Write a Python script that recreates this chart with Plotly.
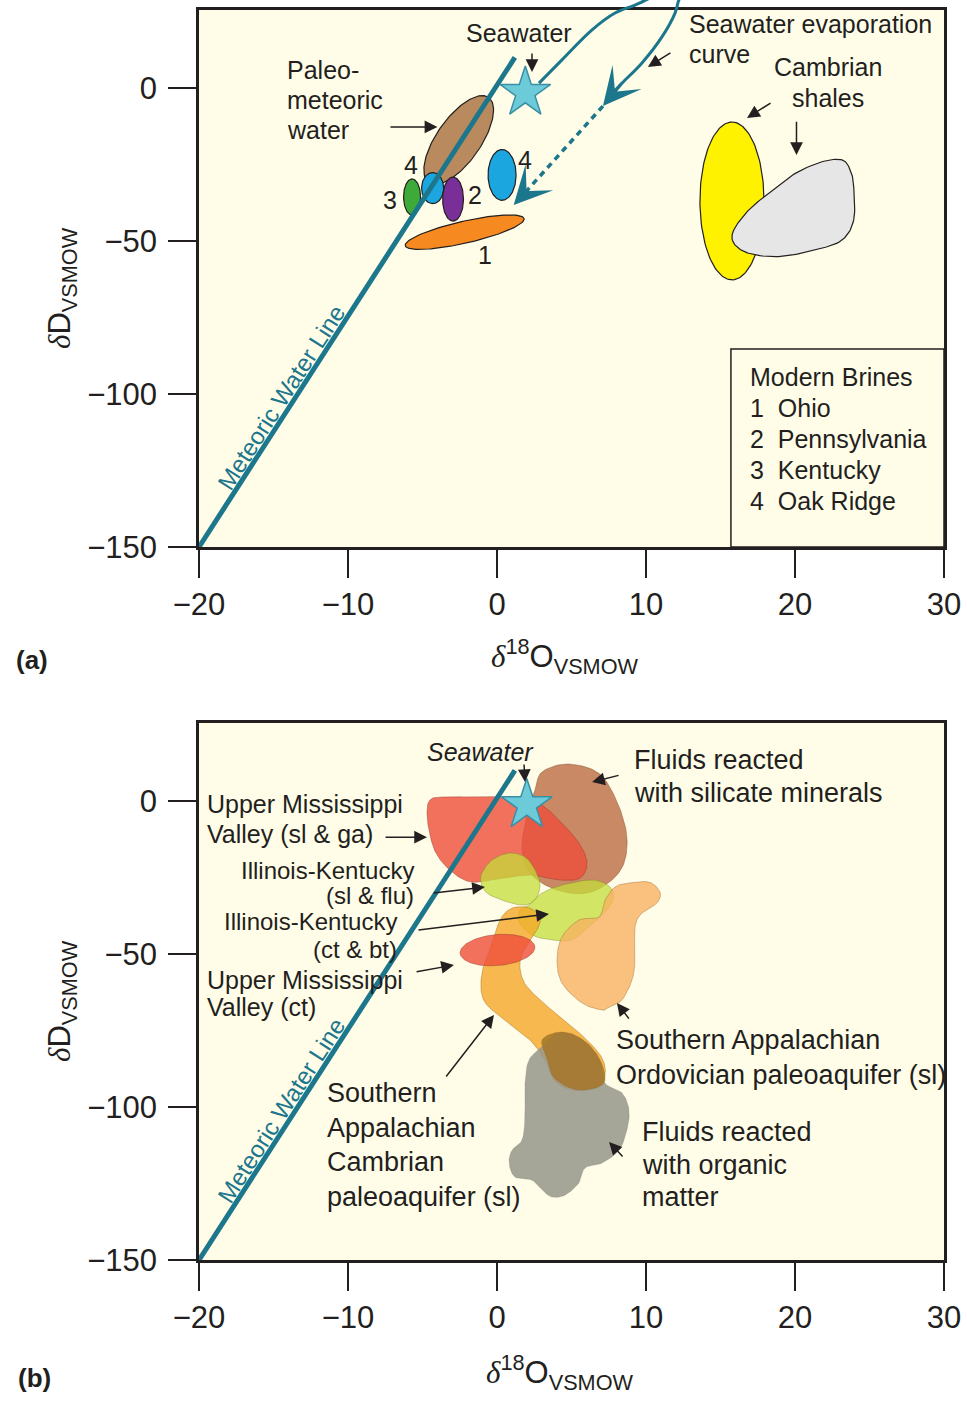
import numpy as np
import plotly.graph_objects as go

W, H = 967, 1408
FONT = "Liberation Sans, Arial, Helvetica, sans-serif"
DARK = "#231F20"
TEAL = "#1C768C"
CREAM = "#FFFDE8"

# ---------------- axes ----------------
x_ticks = [-20, -10, 0, 10, 20, 30]
x_ticktext = ["−20", "−10", "0", "10", "20", "30"]
y_ticks = [0, -50, -100, -150]
y_ticktext = ["0", "−50", "−100", "−150"]
X_RANGE = [-20, 30]
Y_RANGE = [-150, 25.5]

# ---------------- shared data ----------------
mwl_x = [-20.0, 1.2]          # meteoric water line
mwl_y = [-150.0, 10.0]
seawater_a_x, seawater_a_y = [1.9], [-1.5]
seawater_b_x, seawater_b_y = [2.0], [-1.3]

# ---------------- panel (a) data ----------------
# seawater evaporation curve (solid part, loops above the frame)
evap_x = [2.82, 4.36, 6.38, 7.92, 9.26, 10.40, 11.07, 11.88, 12.35, 12.21, 11.95, 11.07, 9.73, 8.39, 7.70]
evap_y = [1.6, 9.2, 19.0, 24.5, 27.1, 29.7, 31.0, 31.4, 29.7, 28.8, 24.5, 16.7, 8.2, 1.6, -2.0]
evap_dash_x = [7.11, 1.40]
evap_dash_y = [-5.9, -36.8]

# brine ellipses: centre, half extents, tilt (deg)
ell_names = ["Cambrian shale (yellow)", "Paleo-meteoric water", "1 Ohio", "3 Kentucky",
             "4 Oak Ridge", "2 Pennsylvania", "4 Oak Ridge"]
ell_cx = [15.77, -2.57, -2.17, -5.70, -4.32, -2.95, 0.34]
ell_cy = [-36.9, -17.0, -47.1, -35.6, -32.7, -36.3, -28.4]
ell_rx = [2.15, 3.49, 4.09, 0.57, 0.74, 0.70, 0.94]
ell_ry = [25.8, 7.19, 3.59, 5.9, 5.07, 7.2, 8.3]
ell_tilt = [0, 55, 12.8, 0, 0, 0, 0]
ell_colors = ["#FFF200", "#B98A5E", "#F6891F", "#3DAA3A", "#1CA6E0", "#7A2E97", "#1CA6E0"]

shale_x = [15.89, 16.89, 18.23, 20.02, 21.81, 23.15, 23.71, 23.94, 23.94, 23.15, 21.36, 18.91, 16.89, 15.89]
shale_y = [-46.4, -39.9, -34.4, -27.9, -24.1, -23.5, -26.8, -32.3, -43.1, -49.7, -52.9, -55.1, -54.0, -50.7]

num_labels = ["4", "3", "2", "4", "1"]
num_x = [-5.8, -7.2, -1.5, 1.9, -0.8]
num_y = [-25.0, -36.6, -35.0, -23.5, -54.6]

legend_box_x = [15.7, 30]
legend_box_y = [-150, -85.3]
legend_lines = ["Modern Brines", "1\u00a0\u00a0Ohio", "2\u00a0\u00a0Pennsylvania",
                "3\u00a0\u00a0Kentucky", "4\u00a0\u00a0Oak Ridge"]

# ---------------- panel (b) data ----------------
silicate_x = [2.55, 3.02, 4.70, 6.71, 7.85, 8.66, 8.59, 7.72, 6.04, 4.03, 2.35, 1.68, 2.01]
silicate_y = [3.6, 9.5, 12.1, 9.5, 2.0, -9.5, -19.3, -25.8, -30.1, -29.1, -24.2, -16.0, -4.6]
umv_slga_x = [-4.70, -4.50, -3.69, -1.01, 1.88, 3.02, 4.03, 5.50, 6.04, 5.57, 4.16, 2.35, 0.34, -1.68, -3.02, -4.03, -4.50]
umv_slga_y = [-3.9, 0.3, 1.3, 1.3, 1.3, -1.3, -5.6, -13.7, -20.3, -25.2, -25.8, -24.2, -25.2, -26.5, -23.2, -17.6, -11.1]
ik_slflu_x = [-1.01, -0.34, 0.81, 1.88, 2.55, 2.89, 2.55, 1.68, 0.34, -0.67, -1.07]
ik_slflu_y = [-23.5, -19.3, -17.0, -18.3, -22.5, -27.5, -32.4, -34.0, -32.4, -30.1, -26.8]
ik_ctbt_x = [2.15, 3.02, 4.36, 6.38, 7.58, 7.79, 7.05, 6.04, 5.03, 3.69, 2.35, 1.48, 1.54]
ik_ctbt_y = [-34.0, -30.1, -27.5, -25.8, -28.1, -32.4, -37.3, -41.5, -45.4, -45.4, -43.8, -39.5, -35.6]
ordov_x = [7.92, 8.86, 10.20, 10.94, 10.74, 9.73, 9.26, 9.26, 9.06, 8.39, 7.52, 7.05, 5.70, 4.36, 4.03, 4.36, 5.50, 6.85, 7.25]
ordov_y = [-28.1, -26.8, -26.5, -29.7, -33.3, -36.6, -41.2, -52.0, -58.5, -65.0, -67.3, -68.3, -66.0, -59.5, -52.0, -44.4, -38.9, -37.9, -32.4]
camb_x = [1.01, 0.20, -0.34, -0.94, -1.07, -0.67, 0.54, 2.21, 3.22, 3.83, 5.03, 6.71, 7.25, 7.05, 6.04, 4.50, 2.89, 1.81, 1.54, 2.01, 2.68, 2.89, 2.21]
camb_y = [-35.0, -38.9, -47.1, -54.6, -61.8, -66.7, -71.6, -78.1, -84.6, -91.2, -94.4, -93.8, -89.5, -84.0, -78.1, -71.6, -65.0, -59.2, -52.6, -47.1, -42.2, -38.2, -35.0]
umv_ct_cx, umv_ct_cy, umv_ct_rx, umv_ct_ry, umv_ct_tilt = 0.03, -48.7, 2.52, 5.07, 5
organic_x = [1.88, 2.15, 3.02, 4.16, 5.70, 6.85, 7.25, 8.39, 8.86, 8.72, 8.19, 7.05, 5.91, 5.50, 4.56, 3.69, 3.02, 2.35, 1.21, 0.81, 1.01, 1.68, 1.88]
organic_y = [-92.2, -84.6, -80.4, -75.8, -78.1, -84.6, -92.2, -95.4, -101.0, -107.5, -114.1, -118.3, -119.9, -124.8, -128.8, -129.4, -127.1, -123.9, -122.9, -118.3, -114.1, -110.8, -103.3]
overlap_x = [3.02, 3.36, 3.83, 5.37, 7.05, 7.18, 6.51, 5.37, 4.16]
overlap_y = [-78.1, -84.0, -90.5, -94.4, -92.8, -87.9, -81.4, -76.8, -75.5]

# ---------------- layout geometry ----------------
XD = [199 / W, 944 / W]
YD_A = [1 - 547 / H, 1 - 10 / H]
YD_B = [1 - 1260 / H, 1 - 723 / H]
SX = (XD[1] - XD[0]) * W / (X_RANGE[1] - X_RANGE[0])
SY = (YD_A[1] - YD_A[0]) * H / (Y_RANGE[1] - Y_RANGE[0])


def ellipse(cx, cy, rx, ry, tilt, n=140):
    t = np.linspace(0, 2 * np.pi, n)
    px, py = rx * SX * np.cos(t), ry * SY * np.sin(t)
    a = np.radians(tilt)
    qx = px * np.cos(a) - py * np.sin(a)
    qy = px * np.sin(a) + py * np.cos(a)
    return cx + qx / SX, cy + qy / SY


def smooth_closed(xs, ys, k=12):
    P = np.column_stack([np.array(xs) * SX, np.array(ys) * SY])
    n = len(P)
    out = []
    for i in range(n):
        p0, p1, p2, p3 = P[i - 1], P[i], P[(i + 1) % n], P[(i + 2) % n]
        for t in np.linspace(0, 1, k, endpoint=False):
            out.append(0.5 * (2 * p1 + (-p0 + p2) * t + (2 * p0 - 5 * p1 + 4 * p2 - p3) * t * t
                              + (-p0 + 3 * p1 - 3 * p2 + p3) * t ** 3))
    out.append(out[0])
    arr = np.array(out)
    return arr[:, 0] / SX, arr[:, 1] / SY


fig = go.Figure()


def blob(x, y, fill, line, xa, ya, width=1.2, name=None):
    fig.add_trace(go.Scatter(x=x, y=y, mode="lines", fill="toself", fillcolor=fill,
                             line=dict(color=line, width=width), hoverinfo="skip",
                             showlegend=False, xaxis=xa, yaxis=ya, name=name))


# ---- panel (a) ----
for i in range(len(ell_cx)):
    ex, ey = ellipse(ell_cx[i], ell_cy[i], ell_rx[i], ell_ry[i], ell_tilt[i])
    blob(ex, ey, ell_colors[i], DARK, "x", "y", name=ell_names[i])
    if i == 0:
        sx_, sy_ = smooth_closed(shale_x, shale_y)
        blob(sx_, sy_, "#E6E6E6", DARK, "x", "y", name="Cambrian shale (gray)")

fig.add_trace(go.Scatter(x=mwl_x, y=mwl_y, mode="lines", line=dict(color=TEAL, width=5),
                         hoverinfo="skip", showlegend=False, xaxis="x", yaxis="y"))
fig.add_trace(go.Scatter(x=evap_dash_x, y=evap_dash_y, mode="lines",
                         line=dict(color=TEAL, width=3.5, dash="6px,5px"),
                         hoverinfo="skip", showlegend=False, xaxis="x", yaxis="y"))
fig.add_trace(go.Scatter(x=seawater_a_x, y=seawater_a_y, mode="markers",
                         marker=dict(symbol="star", size=38, color="#6DCBD9",
                                     line=dict(color="#3A8FA6", width=1.5)),
                         hoverinfo="skip", showlegend=False, xaxis="x", yaxis="y"))

# ---- panel (b) ----
blob(*smooth_closed(silicate_x, silicate_y), "rgba(192,116,76,0.85)", "rgba(120,70,40,0.5)", "x2", "y2", 0.8)
blob(*smooth_closed(umv_slga_x, umv_slga_y), "rgba(238,78,58,0.8)", "rgba(140,50,40,0.5)", "x2", "y2", 0.8)
blob(*smooth_closed(ik_slflu_x, ik_slflu_y), "rgba(196,220,58,0.75)", "rgba(120,130,40,0.5)", "x2", "y2", 0.8)
blob(*smooth_closed(ik_ctbt_x, ik_ctbt_y), "rgba(196,220,58,0.75)", "rgba(120,130,40,0.5)", "x2", "y2", 0.8)
blob(*smooth_closed(ordov_x, ordov_y), "rgba(247,178,98,0.8)", "rgba(150,100,50,0.5)", "x2", "y2", 0.8)
blob(*smooth_closed(camb_x, camb_y), "rgba(245,168,40,0.8)", "rgba(150,100,30,0.5)", "x2", "y2", 0.8)
blob(*ellipse(umv_ct_cx, umv_ct_cy, umv_ct_rx, umv_ct_ry, umv_ct_tilt), "rgba(238,78,58,0.8)",
     "rgba(140,50,40,0.5)", "x2", "y2", 0.8)
blob(*smooth_closed(organic_x, organic_y), "rgba(150,150,138,0.85)", "rgba(110,110,100,0.3)", "x2", "y2", 0.8)
blob(*smooth_closed(overlap_x, overlap_y), "rgba(165,118,40,0.85)", "rgba(120,80,30,0.3)", "x2", "y2", 0.6)

fig.add_trace(go.Scatter(x=mwl_x, y=mwl_y, mode="lines", line=dict(color=TEAL, width=5),
                         hoverinfo="skip", showlegend=False, xaxis="x2", yaxis="y2"))
fig.add_trace(go.Scatter(x=seawater_b_x, y=seawater_b_y, mode="markers",
                         marker=dict(symbol="star", size=38, color="#6DCBD9",
                                     line=dict(color="#3A8FA6", width=1.5)),
                         hoverinfo="skip", showlegend=False, xaxis="x2", yaxis="y2"))

# ---- evaporation curve on an overlay axis so it can leave the frame ----
fig.add_trace(go.Scatter(x=evap_x, y=evap_y, mode="lines", line=dict(color=TEAL, width=3, shape="spline"),
                         hoverinfo="skip", showlegend=False, xaxis="x3", yaxis="y3"))

# ---------------- annotations ----------------
ann = []


def text(x, y, s, xref="x", yref="y", size=25, xanchor="center", **kw):
    d = dict(x=x, y=y, xref=xref, yref=yref, text=s, showarrow=False, xanchor=xanchor,
             yanchor="middle", font=dict(family=FONT, size=size, color=DARK))
    d.update(kw)
    ann.append(d)


def lines(x, ys, strs, xref="x", yref="y", size=25, xanchor="left"):
    for yy, s in zip(ys, strs):
        text(x, yy, s, xref, yref, size, xanchor)


def arrow(x0, y0, x1, y1, xref="x", yref="y", color=DARK, width=1.5, size=1.7, head=2):
    ann.append(dict(x=x1, y=y1, ax=x0, ay=y0, xref=xref, yref=yref, axref=xref, ayref=yref,
                    text="", showarrow=True, arrowhead=head, arrowsize=size, arrowwidth=width,
                    arrowcolor=color, standoff=0, startstandoff=0))


# panel (a) labels
text(1.48, 18.0, "Seawater")
arrow(2.35, 11.8, 2.35, 5.2)
lines(-14.2, [5.9, -3.9, -13.7], ["Paleo-", "meteoric", "water"])
arrow(-7.25, -12.7, -4.0, -12.7)
lines(12.75, [20.9, 11.1], ["Seawater evaporation", "curve"])
arrow(11.74, 11.8, 10.13, 6.9)
lines(22.2, [6.9, -3.3], ["Cambrian", "shales"], xanchor="center")
arrow(18.46, -4.6, 16.78, -9.8)
arrow(20.1, -10.5, 20.1, -21.9)
for s, x, y in zip(num_labels, num_x, num_y):
    text(x, y, s)
lines(16.85, [-94.4, -104.6, -114.7, -124.8, -135.0], legend_lines)
# arrowheads of the evaporation curve
arrow(8.39, 1.6, 7.11, -5.9, color=TEAL, width=3, size=2.1, head=3)
arrow(2.0, -33.6, 1.12, -38.2, color=TEAL, width=3, size=2.1, head=3)
# meteoric water line labels
for xr, yr in (("x", "y"), ("x2", "y2")):
    ann.append(dict(x=-14.5, y=-101, xref=xr, yref=yr, text="Meteoric Water Line", showarrow=False,
                    textangle=-57.3, font=dict(family=FONT, size=24, color=TEAL)))

# panel (b) labels
text(-1.14, 16.0, "<i>Seawater</i>", "x2", "y2")
arrow(1.81, 12.4, 1.88, 6.2, "x2", "y2")
lines(9.06, [13.4, 2.6], ["Fluids reacted", "with silicate minerals"], "x2", "y2", size=27)
arrow(8.26, 8.5, 6.38, 6.2, "x2", "y2")
lines(-19.6, [-1.0, -10.8], ["Upper Mississippi", "Valley (sl & ga)"], "x2", "y2")
arrow(-7.58, -11.8, -4.70, -11.8, "x2", "y2")
lines(-5.44, [-22.6, -31.0], ["Illinois-Kentucky", "(sl & flu)"], "x2", "y2", size=24, xanchor="right")
arrow(-4.36, -30.1, -0.81, -28.1, "x2", "y2")
lines(-6.58, [-39.4, -48.6], ["Illinois-Kentucky", "(ct & bt)"], "x2", "y2", size=24, xanchor="right")
arrow(-5.37, -42.2, 3.49, -36.9, "x2", "y2")
lines(-19.6, [-58.5, -67.3], ["Upper Mississippi", "Valley (ct)"], "x2", "y2")
arrow(-5.50, -55.9, -2.89, -53.6, "x2", "y2")
lines(-11.54, [-95.4, -106.9, -118.0, -129.4],
      ["Southern", "Appalachian", "Cambrian", "paleoaquifer (sl)"], "x2", "y2", size=27)
arrow(-3.49, -90.5, -0.20, -69.9, "x2", "y2")
lines(7.85, [-78.1, -89.5], ["Southern Appalachian", "Ordovician paleoaquifer (sl)"], "x2", "y2", size=27)
arrow(8.93, -71.6, 8.05, -66.0, "x2", "y2")
lines(9.6, [-108.2, -119.0, -129.4], ["Fluids reacted", "with organic", "matter"], "x2", "y2", size=27)
arrow(8.52, -116.7, 7.52, -111.4, "x2", "y2")

# axis titles and panel tags
xt = ("<span style=\"font-family:'Liberation Serif', 'DejaVu Serif', serif\"><i>δ</i></span>"
      "<sup>18</sup>O<sub>VSMOW</sub>")
yt = ("<span style=\"font-family:'Liberation Serif', 'DejaVu Serif', serif\"><i>δ</i></span>"
      "D<sub>VSMOW</sub>")
text(565 / W, 1 - 657 / H, xt, "paper", "paper", size=31)
text(560 / W, 1 - 1372 / H, xt, "paper", "paper", size=31)
text(62 / W, 1 - 288 / H, yt, "paper", "paper", size=31, textangle=-90)
text(62 / W, 1 - 1001 / H, yt, "paper", "paper", size=31, textangle=-90)
text(14 / W, 1 - 660 / H, "<b>(a)</b>", "paper", "paper", size=26, xanchor="left")
text(16 / W, 1 - 1378 / H, "<b>(b)</b>", "paper", "paper", size=26, xanchor="left")

# ---------------- shapes ----------------
shapes = [
    dict(type="rect", xref="x domain", yref="y domain", x0=0, x1=1, y0=0, y1=1,
         fillcolor=CREAM, line=dict(width=0), layer="below"),
    dict(type="rect", xref="x2 domain", yref="y2 domain", x0=0, x1=1, y0=0, y1=1,
         fillcolor=CREAM, line=dict(width=0), layer="below"),
    dict(type="rect", xref="x", yref="y", x0=legend_box_x[0], x1=legend_box_x[1],
         y0=legend_box_y[0], y1=legend_box_y[1], fillcolor=CREAM,
         line=dict(color=DARK, width=1.5), layer="above"),
]

axis_common = dict(showgrid=False, zeroline=False, showline=True, mirror=True, linewidth=2.5,
                   linecolor=DARK, ticks="outside", ticklen=28, tickwidth=2, tickcolor=DARK,
                   tickfont=dict(family=FONT, size=31, color=DARK), fixedrange=True,
                   automargin=False)

y3_top = Y_RANGE[0] + (Y_RANGE[1] - Y_RANGE[0]) * (1.0 - YD_A[0]) / (YD_A[1] - YD_A[0])

fig.update_layout(
    template="none",
    width=W, height=H, margin=dict(l=0, r=0, t=0, b=0, pad=0),
    paper_bgcolor="white", plot_bgcolor="rgba(0,0,0,0)",
    showlegend=False,
    xaxis=dict(domain=XD, anchor="y", range=X_RANGE, tickvals=x_ticks, ticktext=x_ticktext,
               ticklabelstandoff=0, **axis_common),
    yaxis=dict(domain=YD_A, anchor="x", range=Y_RANGE, tickvals=y_ticks, ticktext=y_ticktext,
               ticklabelstandoff=5, **axis_common),
    xaxis2=dict(domain=XD, anchor="y2", range=X_RANGE, tickvals=x_ticks, ticktext=x_ticktext,
                ticklabelstandoff=0, **axis_common),
    yaxis2=dict(domain=YD_B, anchor="x2", range=Y_RANGE, tickvals=y_ticks, ticktext=y_ticktext,
                ticklabelstandoff=5, **axis_common),
    xaxis3=dict(domain=XD, anchor="y3", range=X_RANGE, visible=False, fixedrange=True, automargin=False),
    yaxis3=dict(domain=[YD_A[0], 1.0], anchor="x3", range=[Y_RANGE[0], y3_top], visible=False,
                fixedrange=True, automargin=False),
    annotations=ann, shapes=shapes,
)

fig.write_html("out.html")
